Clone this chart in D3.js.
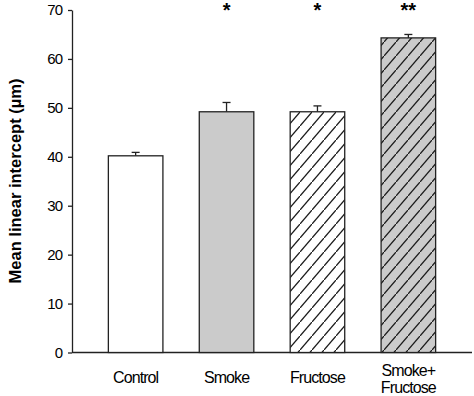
<!DOCTYPE html>
<html>
<head>
<meta charset="utf-8">
<script src="https://cdn.jsdelivr.net/npm/d3@7"></script>
<style>
  body { margin: 0; background: #fff; }
</style>
</head>
<body>
<div id="chart"></div>
<script>
const categories = ["Control", "Smoke", "Fructose", "Smoke+\nFructose"];
const means = [40.2, 49.2, 49.2, 64.3];
const errors = [0.7, 1.9, 1.2, 0.7];
const stars = ["", "*", "*", "**"];
const fills = ["white", "gray", "hatch", "grayhatch"];
const yTicks = [0, 10, 20, 30, 40, 50, 60, 70];

const width = 474, height = 396;
const svg = d3.select("#chart").append("svg")
    .attr("width", width)
    .attr("height", height);

const defs = svg.append("defs");
function hatch(id, bg) {
  const p = defs.append("pattern")
      .attr("id", id)
      .attr("patternUnits", "userSpaceOnUse")
      .attr("width", 12)
      .attr("height", 14);
  p.append("rect").attr("width", 12).attr("height", 14).attr("fill", bg);
  p.append("path")
      .attr("d", "M-3,17.5 L15,-3.5")
      .attr("stroke", "#1a1a1a")
      .attr("stroke-width", 1.3);
}
hatch("hatch", "white");
hatch("grayhatch", "#cbcbcb");

const fillFor = {white: "white", gray: "#cbcbcb", hatch: "url(#hatch)", grayhatch: "url(#grayhatch)"};

const x = d3.scaleBand()
    .domain(categories)
    .range([72, 472])
    .padding(0.4);

const y = d3.scaleLinear()
    .domain([0, 70])
    .range([352.5, 10]);

// y axis
const yAxis = svg.append("g")
    .attr("transform", "translate(72,0)")
    .call(d3.axisLeft(y).tickValues(yTicks).tickSize(4).tickPadding(6).tickSizeOuter(0));
yAxis.select(".domain").attr("stroke", "#222").attr("stroke-width", 1.3);
yAxis.selectAll(".tick line").attr("stroke", "#222").attr("stroke-width", 1.3);
yAxis.selectAll(".tick text")
    .attr("fill", "#000")
    .style("font-family", "Liberation Sans, Arial, sans-serif")
    .style("font-size", "15px")
    .style("letter-spacing", "-1px");

// x axis line
svg.append("line")
    .attr("x1", 72).attr("x2", 472)
    .attr("y1", y(0)).attr("y2", y(0))
    .attr("stroke", "#222").attr("stroke-width", 1.3);

// error bars
const eb = svg.append("g").selectAll("g")
    .data(categories)
    .join("g");
eb.append("line")
    .attr("x1", d => x(d) + x.bandwidth() / 2)
    .attr("x2", d => x(d) + x.bandwidth() / 2)
    .attr("y1", (d, i) => y(means[i]))
    .attr("y2", (d, i) => y(means[i] + errors[i]))
    .attr("stroke", "#222").attr("stroke-width", 1.3);
eb.append("line")
    .attr("x1", d => x(d) + x.bandwidth() / 2 - 4)
    .attr("x2", d => x(d) + x.bandwidth() / 2 + 4)
    .attr("y1", (d, i) => y(means[i] + errors[i]))
    .attr("y2", (d, i) => y(means[i] + errors[i]))
    .attr("stroke", "#222").attr("stroke-width", 1.3);

// bars
svg.append("g").selectAll("rect")
    .data(categories)
    .join("rect")
    .attr("x", d => x(d))
    .attr("width", x.bandwidth())
    .attr("y", (d, i) => y(means[i]))
    .attr("height", (d, i) => y(0) - y(means[i]))
    .attr("fill", (d, i) => fillFor[fills[i]])
    .attr("stroke", "#222")
    .attr("stroke-width", 1.3);

// significance stars
svg.append("g").selectAll("text")
    .data(categories)
    .join("text")
    .attr("x", d => x(d) + x.bandwidth() / 2)
    .attr("y", 17)
    .attr("text-anchor", "middle")
    .style("font-family", "Liberation Sans, Arial, sans-serif")
    .style("font-size", "20px")
    .style("font-weight", "bold")
    .attr("fill", "#000")
    .text((d, i) => stars[i]);

// category labels
const labels = svg.append("g").selectAll("text")
    .data(categories)
    .join("text")
    .attr("text-anchor", "middle")
    .style("font-family", "Liberation Sans, Arial, sans-serif")
    .style("font-size", "16px")
    .style("letter-spacing", "-0.9px")
    .attr("fill", "#000");
labels.each(function(d) {
  const lines = d.split("\n");
  const t = d3.select(this);
  const cx = x(d) + x.bandwidth() / 2;
  const y0 = lines.length > 1 ? 376 : 383;
  lines.forEach((l, j) => {
    t.append("tspan").attr("x", cx).attr("y", y0 + j * 17).text(l);
  });
});

// y axis title
svg.append("text")
    .attr("transform", "translate(21,181) rotate(-90)")
    .attr("text-anchor", "middle")
    .style("font-family", "Liberation Sans, Arial, sans-serif")
    .style("font-size", "16.5px")
    .style("font-weight", "bold")
    .attr("fill", "#000")
    .text("Mean linear intercept (µm)");
</script>
</body>
</html>
